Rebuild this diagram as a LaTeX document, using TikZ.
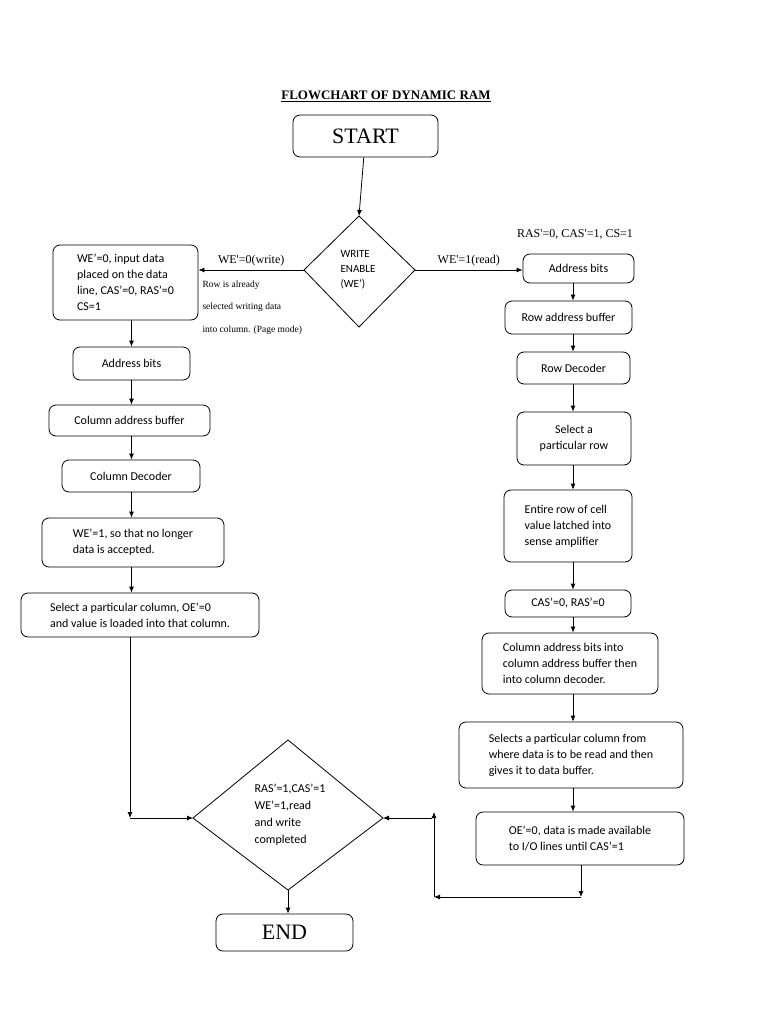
\documentclass[tikz,border=0pt]{standalone}
\usepackage{fontspec}
\setmainfont{Carlito}
\newfontfamily\serif{Liberation Serif}
\usetikzlibrary{arrows.meta}
\begin{document}
\begin{tikzpicture}[x=1pt,y=-1pt,
  box/.style={draw,rounded corners=7pt,line width=0.8pt,font=\fontsize{12}{16}\selectfont,align=left},
  ar/.style={-{Latex[length=6pt,width=5pt]},line width=0.8pt},
  ln/.style={line width=0.8pt}]
\useasboundingbox (0,0) rectangle (768,1024);
\node[font=\serif\bfseries\fontsize{13}{15}\selectfont] (title) at (386,96) {\underline{FLOWCHART OF DYNAMIC RAM}};
\node[box,minimum width=145,minimum height=42,font=\serif\fontsize{22}{24}\selectfont] (start) at (365.5,136) {START};
% write enable diamond
\coordinate (wt) at (359,216); \coordinate (wb) at (359,327);
\coordinate (wl) at (304,270); \coordinate (wr) at (415,270);
\draw[ln] (wt)--(wr)--(wb)--(wl)--cycle;
\node[font=\fontsize{11}{15}\selectfont,align=left] (we) at (358,270) {WRITE\\ENABLE\\(WE')};
\draw[ar] (start) -- (wt);
% left column
\node[box,minimum width=145,minimum height=75] (l1) at (125.5,282.5) {WE'=0, input data\\placed on the data\\line, CAS'=0, RAS'=0\\CS=1};
\draw[ar] (wl) -- (l1.east|-wl) node[midway,above,font=\serif\fontsize{12}{14}\selectfont] {WE'=0(write)};
\node[font=\serif\fontsize{9.5}{22.5}\selectfont,align=left,anchor=north west] (note) at (199,277) {Row is already\\ selected writing data\\ into column. (Page mode)};
\node[box,minimum width=117,minimum height=33] (l2) at (131.5,363.5) {Address bits};
\node[box,minimum width=161,minimum height=31] (l3) at (129.5,420.5) {Column address buffer};
\node[box,minimum width=138,minimum height=32] (l4) at (131,476) {Column Decoder};
\node[box,minimum width=182,minimum height=49] (l5) at (133,542.5) {WE'=1, so that no longer\\data is accepted.};
\node[box,minimum width=238,minimum height=44] (l6) at (140,615) {Select a particular column, OE'=0\\and value is loaded into that column.};
\draw[ar] (l1.south-|l2) -- (l2);
\draw[ar] (l2) -- (l3.north-|l2);
\draw[ar] (l3.south-|l2) -- (l4.north-|l2);
\draw[ar] (l4.south-|l2) -- (l5.north-|l2);
\draw[ar] (l5.south-|l2) -- (l6.north-|l2);
% final diamond
\coordinate (dt) at (288,740); \coordinate (db) at (288,890);
\coordinate (dl) at (193,818); \coordinate (dr) at (383,818);
\draw[ln] (dt)--(dr)--(db)--(dl)--cycle;
\node[font=\fontsize{12}{17}\selectfont,align=left] (fin) at (290,815) {RAS'=1,CAS'=1\\WE'=1,read\\and write\\completed};
\coordinate (lc) at (130,818);
\draw[ar] (l6.south-|lc) -- (lc);
\draw[ar] (lc) -- (dl);
\node[box,minimum width=137,minimum height=37,font=\serif\fontsize{22}{24}\selectfont] (end) at (284.5,932.5) {END};
\draw[ar] (db) -- (end.north-|db);
% right column
\node[font=\serif\fontsize{12}{14}\selectfont] (ras) at (575,234) {RAS'=0, CAS'=1, CS=1};
\node[box,minimum width=111,minimum height=29] (r1) at (578.5,268.5) {Address bits};
\draw[ar] (wr) -- (r1.west|-wr) node[midway,above,font=\serif\fontsize{12}{14}\selectfont] {WE'=1(read)};
\node[box,minimum width=127,minimum height=33] (r2) at (568.5,317.5) {Row address buffer};
\node[box,minimum width=113,minimum height=32] (r3) at (573.5,368) {Row Decoder};
\node[box,minimum width=114,minimum height=53,align=center] (r4) at (574,438.5) {Select a\\particular row};
\node[box,minimum width=128,minimum height=72] (r5) at (568,526) {Entire row of cell\\value latched into\\sense amplifier};
\node[box,minimum width=126,minimum height=27] (r6) at (568,603.5) {CAS'=0, RAS'=0};
\node[box,minimum width=176,minimum height=61] (r7) at (570,663.5) {Column address bits into\\column address buffer then\\into column decoder.};
\node[box,minimum width=224,minimum height=66] (r8) at (571,755) {Selects a particular column from\\where data is to be read and then\\gives it to data buffer.};
\node[box,minimum width=208,minimum height=53] (r9) at (580,838.5) {OE'=0, data is made available\\to I/O lines until CAS'=1};
\coordinate (rx) at (573,0);
\draw[ar] (r1.south-|rx) -- (r2.north-|rx);
\draw[ar] (r2.south-|rx) -- (r3.north-|rx);
\draw[ar] (r3.south-|rx) -- (r4.north-|rx);
\draw[ar] (r4.south-|rx) -- (r5.north-|rx);
\draw[ar] (r5.south-|rx) -- (r6.north-|rx);
\draw[ar] (r6.south-|rx) -- (r7.north-|rx);
\draw[ar] (r7.south-|rx) -- (r8.north-|rx);
\draw[ar] (r8.south-|rx) -- (r9.north-|rx);
\coordinate (b1) at (581,897); \coordinate (b2) at (434,897);
\coordinate (b3) at (434,812); \coordinate (b4) at (432,818);
\draw[ar] (r9.south-|b1) -- (b1);
\draw[ar] (b1) -- (b2);
\draw[ar] (b2) -- (b3);
\draw[ar] (b4) -- (dr);
\end{tikzpicture}
\end{document}
